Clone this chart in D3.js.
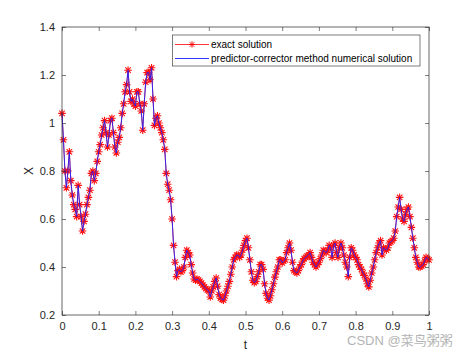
<!DOCTYPE html>
<html><head><meta charset="utf-8">
<script src="https://cdn.jsdelivr.net/npm/d3@7/dist/d3.min.js"></script>
<style>html,body{margin:0;padding:0;background:#fff;}svg{display:block;font-family:"Liberation Sans",Arial,sans-serif;}</style>
</head><body>
<script>
const tStep = 0.004;
const exactX = [
1.04,0.93,0.80,0.73,0.80,0.88,0.76,0.70,0.66,0.64,
0.61,0.74,0.66,0.61,0.55,0.59,0.62,0.66,0.69,0.72,
0.79,0.80,0.76,0.79,0.84,0.88,0.91,0.95,0.98,1.01,
0.96,0.90,0.95,1.01,1.02,0.96,0.90,0.875,0.92,0.94,
0.98,1.04,1.08,1.13,1.16,1.22,1.13,1.09,1.10,1.08,
1.07,1.13,1.13,1.08,1.05,0.97,1.08,1.17,1.21,1.21,
1.18,1.23,1.10,0.99,1.02,1.03,1.00,0.98,0.96,0.93,
0.89,0.79,0.745,0.72,0.68,0.60,0.49,0.42,0.36,0.385,
0.39,0.38,0.385,0.40,0.44,0.47,0.46,0.45,0.41,0.375,
0.35,0.345,0.35,0.345,0.34,0.333,0.325,0.317,0.31,0.305,
0.30,0.275,0.30,0.317,0.34,0.354,0.32,0.285,0.27,0.265,
0.262,0.28,0.30,0.32,0.34,0.37,0.40,0.43,0.44,0.45,
0.45,0.44,0.45,0.47,0.49,0.51,0.52,0.48,0.43,0.38,
0.345,0.335,0.34,0.36,0.38,0.41,0.41,0.39,0.33,0.29,
0.27,0.262,0.28,0.305,0.33,0.358,0.38,0.40,0.43,0.43,
0.417,0.425,0.43,0.46,0.48,0.50,0.47,0.42,0.385,0.38,
0.375,0.385,0.40,0.41,0.425,0.435,0.44,0.445,0.45,0.46,
0.44,0.42,0.41,0.40,0.41,0.42,0.435,0.45,0.47,0.465,
0.46,0.47,0.49,0.48,0.44,0.49,0.50,0.46,0.44,0.48,
0.50,0.48,0.45,0.42,0.40,0.36,0.44,0.48,0.47,0.45,
0.44,0.43,0.41,0.40,0.39,0.375,0.365,0.35,0.33,0.317,
0.345,0.375,0.40,0.43,0.46,0.48,0.50,0.51,0.45,0.48,
0.475,0.47,0.48,0.50,0.505,0.51,0.52,0.55,0.61,0.65,
0.69,0.64,0.60,0.59,0.62,0.64,0.65,0.61,0.565,0.52,
0.48,0.44,0.42,0.40,0.40,0.405,0.41,0.425,0.44,0.435,
0.43
];
// numerical solution coincides with exact solution at this resolution
const numericalX = exactX.slice();
const xTicks = [0,0.1,0.2,0.3,0.4,0.5,0.6,0.7,0.8,0.9,1];
const yTicks = [0.2,0.4,0.6,0.8,1,1.2,1.4];
const legendLabels = ["exact solution","predictor-corrector method numerical solution"];

const W=474,H=355;
const L=62,R=429,T=27,B=315;
const svg=d3.select("body").append("svg").attr("width",W).attr("height",H);
const x=d3.scaleLinear().domain([0,1]).range([L,R]);
const y=d3.scaleLinear().domain([0.2,1.4]).range([B,T]);
const tVals = exactX.map((_,i)=>i*tStep);

const axColor="#262626";
svg.append("defs").append("clipPath").attr("id","c").append("rect").attr("x",L-4).attr("y",T).attr("width",R-L+8).attr("height",B-T);
const g=svg.append("g").attr("clip-path","url(#c)");
const line=d3.line().x((d,i)=>x(tVals[i])).y(d=>y(d));
g.append("path").datum(exactX).attr("d",line).attr("fill","none").attr("stroke","#ff0000").attr("stroke-width",0.8);
const star = r => `M${-r},0H${r}M0,${-r}V${r}M${-r*0.72},${-r*0.72}L${r*0.72},${r*0.72}M${-r*0.72},${r*0.72}L${r*0.72},${-r*0.72}`;
g.selectAll("path.m").data(exactX).join("path").attr("class","m")
 .attr("transform",(d,i)=>`translate(${x(tVals[i])},${y(d)})`)
 .attr("d",star(3.8)).attr("stroke","#ff1010").attr("stroke-width",1.1).attr("fill","none");
g.append("path").datum(numericalX).attr("d",line).attr("fill","none").attr("stroke","#2020ff").attr("stroke-width",0.9);

const tl=4;
const xb=d3.axisBottom(x).tickValues(xTicks).tickSizeInner(-tl).tickSizeOuter(0).tickPadding(7).tickFormat(d3.format("~g"));
const xt=d3.axisTop(x).tickValues(xTicks).tickSizeInner(-tl).tickSizeOuter(0).tickFormat("");
const yl=d3.axisLeft(y).tickValues(yTicks).tickSizeInner(-tl).tickSizeOuter(0).tickPadding(7).tickFormat(d3.format("~g"));
const yr=d3.axisRight(y).tickValues(yTicks).tickSizeInner(-tl).tickSizeOuter(0).tickFormat("");
function style(sel){sel.select(".domain").remove();sel.selectAll("line").attr("stroke",axColor).attr("stroke-width",0.6);sel.selectAll("text").attr("fill",axColor).attr("font-size","11px").attr("font-family","Liberation Sans, Arial, sans-serif");}
svg.append("g").attr("transform",`translate(0,${B})`).call(xb).call(style);
svg.append("g").attr("transform",`translate(0,${T})`).call(xt).call(style);
svg.append("g").attr("transform",`translate(${L},0)`).call(yl).call(style);
svg.append("g").attr("transform",`translate(${R},0)`).call(yr).call(style);
svg.append("rect").attr("x",L).attr("y",T).attr("width",R-L).attr("height",B-T).attr("fill","none").attr("stroke",axColor).attr("stroke-width",0.7);

svg.append("text").attr("x",(L+R)/2).attr("y",349).attr("text-anchor","middle").attr("font-size","12px").attr("fill",axColor).text("t");
svg.append("text").attr("transform",`translate(33,${(T+B)/2}) rotate(-90)`).attr("text-anchor","middle").attr("font-size","12px").attr("fill",axColor).text("X");

const lg=svg.append("g");
lg.append("rect").attr("x",172.5).attr("y",35).attr("width",247.5).attr("height",31).attr("fill","#fff").attr("stroke",axColor).attr("stroke-width",0.6);
const ly=[44.5,58.5];
lg.append("line").attr("x1",175).attr("x2",209).attr("y1",ly[0]).attr("y2",ly[0]).attr("stroke","#ff0000").attr("stroke-width",0.8);
lg.append("path").attr("transform",`translate(192,${ly[0]})`).attr("d",star(3.2)).attr("stroke","#ff0000").attr("stroke-width",0.9);
lg.append("line").attr("x1",175).attr("x2",209).attr("y1",ly[1]).attr("y2",ly[1]).attr("stroke","#0000ff").attr("stroke-width",0.8);
legendLabels.forEach((s,i)=>lg.append("text").attr("x",211).attr("y",ly[i]+3.5).attr("font-size","10px").attr("fill","#000").text(s));

svg.append("text").attr("x",347).attr("y",345).attr("font-size","13px").attr("fill","#b4b4b4").attr("font-family","Liberation Sans, 'Noto Sans CJK SC', sans-serif").text("CSDN @菜鸟粥粥");
</script>
</body></html>
